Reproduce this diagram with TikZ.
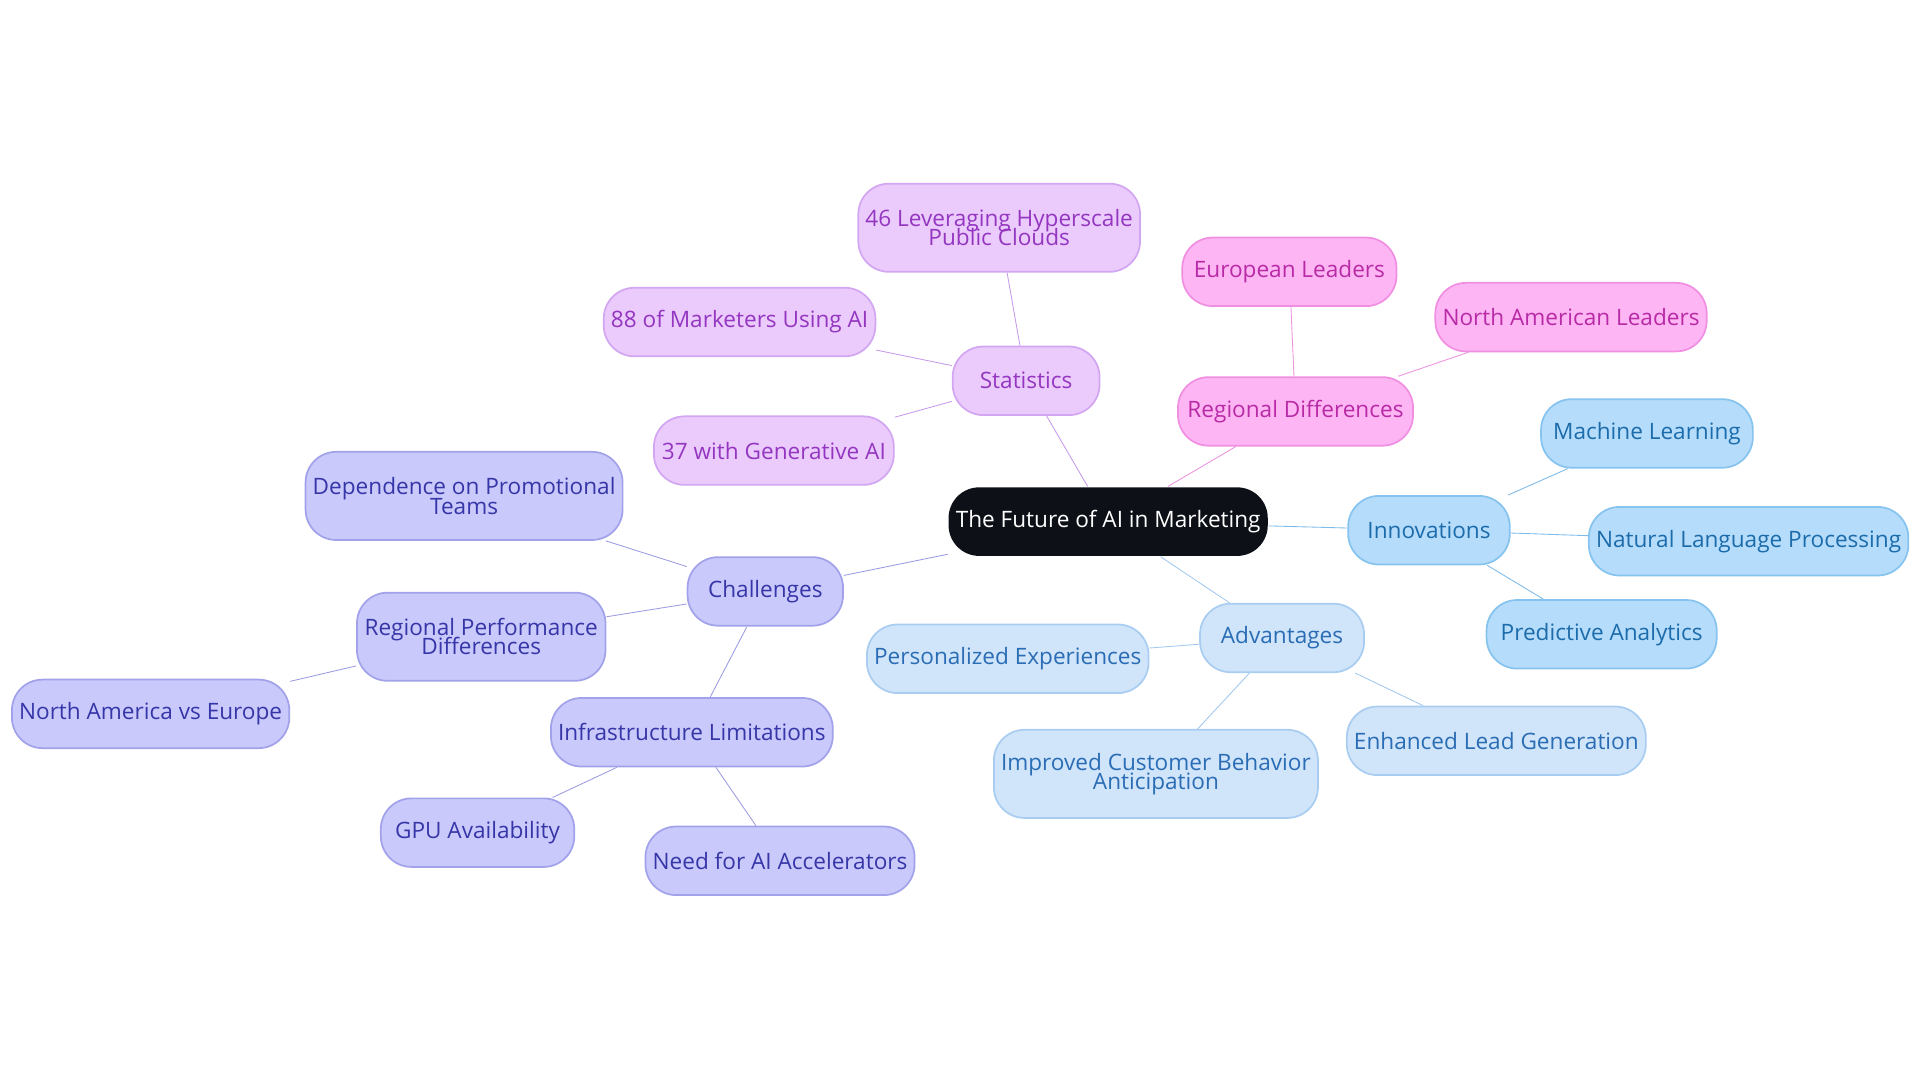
\documentclass[tikz,border=0pt]{standalone}
\usepackage{fontspec}
\setmainfont{Open Sans}
\usepackage{tikz}
\usetikzlibrary{backgrounds}
\definecolor{rootc}{HTML}{0D1117}
\definecolor{stfill}{HTML}{EACBFC}\definecolor{stdraw}{HTML}{D3A6F2}\definecolor{sttext}{HTML}{9436C0}\definecolor{stline}{HTML}{C79BEA}
\definecolor{rgfill}{HTML}{FDB6F3}\definecolor{rgdraw}{HTML}{F08FE2}\definecolor{rgtext}{HTML}{B82AA6}\definecolor{rgline}{HTML}{EC92DE}
\definecolor{infill}{HTML}{B5DDFB}\definecolor{indraw}{HTML}{86C3EE}\definecolor{intext}{HTML}{1C6BAA}\definecolor{inline}{HTML}{7DBBE9}
\definecolor{adfill}{HTML}{D0E4FA}\definecolor{addraw}{HTML}{A9CDF1}\definecolor{adtext}{HTML}{2A6DB5}\definecolor{adline}{HTML}{A2C8EE}
\definecolor{chfill}{HTML}{C9C9FB}\definecolor{chdraw}{HTML}{A2A2EA}\definecolor{chtext}{HTML}{3636A8}\definecolor{chline}{HTML}{9C9CE2}
\tikzset{
  box/.style={rounded corners=0.5cm,minimum height=1.12cm,align=center,font=\fontsize{10.5}{11}\selectfont,line width=0.8pt},
  stbox/.style={box,fill=stfill,draw=stdraw,text=sttext},
  rgbox/.style={box,fill=rgfill,draw=rgdraw,text=rgtext},
  inbox/.style={box,fill=infill,draw=indraw,text=intext},
  adbox/.style={box,fill=adfill,draw=addraw,text=adtext},
  chbox/.style={box,fill=chfill,draw=chdraw,text=chtext},
}
\begin{document}
\begin{tikzpicture}[x=0.02cm,y=-0.02cm]
    \useasboundingbox (0,0) rectangle (1568,884);
    \node[box,fill=rootc,text=white,minimum width=4.96cm] (root) at (905,426) {The Future of AI in Marketing};
    \node[stbox,minimum width=2.4cm] (stat) at (838,311) {Statistics};
    \node[stbox,minimum width=4.6cm,minimum height=1.44cm] (hyper) at (816,186) {46 Leveraging Hyperscale\\[-2pt]Public Clouds};
    \node[stbox,minimum width=4.36cm] (mark) at (604,263) {88 of Marketers Using AI};
    \node[stbox,minimum width=3.92cm] (gen) at (632,368) {37 with Generative AI};
    \node[rgbox,minimum width=3.84cm] (reg) at (1058,336) {Regional Differences};
    \node[rgbox,minimum width=3.5cm] (eur) at (1053,222) {European Leaders};
    \node[rgbox,minimum width=4.36cm] (nam) at (1283,259) {North American Leaders};
    \node[inbox,minimum width=2.64cm] (inno) at (1167,433) {Innovations};
    \node[inbox,minimum width=3.46cm] (ml) at (1345,354) {Machine Learning};
    \node[inbox,minimum width=5.06cm] (nlp) at (1428,442) {Natural Language Processing};
    \node[inbox,minimum width=3.76cm] (pred) at (1308,518) {Predictive Analytics};
    \node[adbox,minimum width=2.68cm] (adv) at (1047,521) {Advantages};
    \node[adbox,minimum width=4.48cm] (pers) at (823,538) {Personalized Experiences};
    \node[adbox,minimum width=5cm,minimum height=1.44cm] (cust) at (944,632) {Improved Customer Behavior\\[-2pt]Anticipation};
    \node[adbox,minimum width=4.76cm] (lead) at (1222,605) {Enhanced Lead Generation};
    \node[chbox,minimum width=2.54cm] (chal) at (625,483) {Challenges};
    \node[chbox,minimum width=4.9cm,minimum height=1.44cm] (promo) at (379,405) {Dependence on Promotional\\[-2pt]Teams};
    \node[chbox,minimum width=4.06cm,minimum height=1.44cm] (perf) at (393,520) {Regional Performance\\[-2pt]Differences};
    \node[chbox,minimum width=4.44cm] (nave) at (123,583) {North America vs Europe};
    \node[chbox,minimum width=4.56cm] (infra) at (565,598) {Infrastructure Limitations};
    \node[chbox,minimum width=3.16cm] (gpu) at (390,680) {GPU Availability};
    \node[chbox,minimum width=4.38cm] (acc) at (637,703) {Need for AI Accelerators};
    \begin{scope}[on background layer,line width=1.2pt]
    \draw [stline] (root) -- (stat);
    \draw [stline] (stat) -- (hyper);
    \draw [stline] (stat) -- (mark);
    \draw [stline] (stat) -- (gen);
    \draw [rgline] (root) -- (reg);
    \draw [rgline] (reg) -- (eur);
    \draw [rgline] (reg) -- (nam);
    \draw [inline] (root) -- (inno);
    \draw [inline] (inno) -- (ml);
    \draw [inline] (inno) -- (nlp);
    \draw [inline] (inno) -- (pred);
    \draw [adline] (root) -- (adv);
    \draw [adline] (adv) -- (pers);
    \draw [adline] (adv) -- (cust);
    \draw [adline] (adv) -- (lead);
    \draw [chline] (root) -- (chal);
    \draw [chline] (chal) -- (promo);
    \draw [chline] (chal) -- (perf);
    \draw [chline] (perf) -- (nave);
    \draw [chline] (chal) -- (infra);
    \draw [chline] (infra) -- (gpu);
    \draw [chline] (infra) -- (acc);
    \end{scope}
\end{tikzpicture}
\end{document}
